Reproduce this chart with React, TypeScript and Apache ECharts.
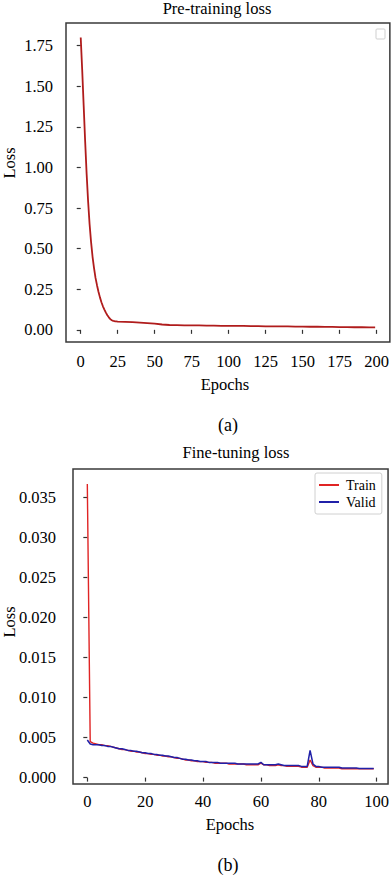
import React, { useEffect, useRef } from "react";
import * as echarts from "echarts";

// ---- Pre-training loss (a) ----
const preEpochs = [
  0, 1, 2, 3, 4, 5, 6, 7, 8, 9, 10, 11, 12, 13, 14, 15, 16, 17, 18, 19, 20, 21, 22, 23, 24, 25,
  30, 35, 40, 45, 50, 55, 60, 65, 70, 75, 80, 85, 90, 95, 100, 105, 110, 115, 120, 125, 130,
  135, 140, 145, 150, 155, 160, 165, 170, 175, 180, 185, 190, 195, 199,
];
const preLoss = [
  1.8, 1.6, 1.38, 1.16, 0.96, 0.79, 0.65, 0.54, 0.45, 0.38, 0.32, 0.275, 0.235, 0.2, 0.17, 0.145,
  0.125, 0.106, 0.09, 0.077, 0.066, 0.059, 0.055, 0.053, 0.052, 0.051,
  0.049, 0.047, 0.045, 0.042, 0.038, 0.033, 0.03, 0.029, 0.028, 0.027, 0.027, 0.026, 0.026, 0.025,
  0.025, 0.024, 0.024, 0.023, 0.023, 0.022, 0.022, 0.021, 0.021, 0.02, 0.02, 0.019, 0.019, 0.018,
  0.018, 0.017, 0.017, 0.016, 0.016, 0.015, 0.015,
];
const preXTicks = [0, 25, 50, 75, 100, 125, 150, 175, 200];
const preYTicks = [0, 0.25, 0.5, 0.75, 1.0, 1.25, 1.5, 1.75];

// ---- Fine-tuning loss (b) ----
const fineTrain = [
  0.0367, 0.0045, 0.0043, 0.0042, 0.0041, 0.0041, 0.004, 0.004, 0.0039, 0.0038,
  0.0037, 0.0036, 0.0035, 0.0035, 0.0034, 0.0033, 0.0033, 0.0032, 0.0032, 0.0031,
  0.003, 0.003, 0.0029, 0.0029, 0.0028, 0.0028, 0.0027, 0.0027, 0.0026, 0.0026,
  0.0025, 0.0024, 0.0024, 0.0023, 0.0022, 0.0022, 0.0021, 0.0021, 0.002, 0.002,
  0.002, 0.0019, 0.0019, 0.0019, 0.0018, 0.0018, 0.0018, 0.0018, 0.0018, 0.0017,
  0.0017, 0.0017, 0.0017, 0.0017, 0.0017, 0.0016, 0.0016, 0.0016, 0.0016, 0.0016,
  0.0018, 0.0016, 0.0016, 0.0015, 0.0015, 0.0015, 0.0016, 0.0015, 0.0015, 0.0014,
  0.0014, 0.0014, 0.0014, 0.0014, 0.0013, 0.0013, 0.0013, 0.0022, 0.0015, 0.0013,
  0.0013, 0.0013, 0.0012, 0.0012, 0.0012, 0.0012, 0.0012, 0.0012, 0.0011, 0.0011,
  0.0011, 0.0011, 0.0011, 0.0011, 0.0011, 0.0011, 0.0011, 0.0011, 0.0011, 0.0011,
];
const fineValid = [
  0.0047, 0.0042, 0.0041, 0.0041, 0.0041, 0.004, 0.004, 0.0039, 0.0039, 0.0038,
  0.0037, 0.0036, 0.0036, 0.0035, 0.0034, 0.0034, 0.0033, 0.0033, 0.0032, 0.0031,
  0.0031, 0.003, 0.003, 0.0029, 0.0029, 0.0028, 0.0028, 0.0027, 0.0027, 0.0026,
  0.0025, 0.0025, 0.0024, 0.0023, 0.0023, 0.0022, 0.0022, 0.0021, 0.0021, 0.002,
  0.002, 0.002, 0.0019, 0.0019, 0.0019, 0.0019, 0.0018, 0.0018, 0.0018, 0.0018,
  0.0018, 0.0018, 0.0017, 0.0017, 0.0017, 0.0017, 0.0017, 0.0017, 0.0017, 0.0017,
  0.0019, 0.0016, 0.0016, 0.0016, 0.0016, 0.0016, 0.0017, 0.0016, 0.0015, 0.0015,
  0.0015, 0.0015, 0.0015, 0.0015, 0.0014, 0.0014, 0.0014, 0.0034, 0.0017, 0.0014,
  0.0014, 0.0013, 0.0013, 0.0013, 0.0013, 0.0013, 0.0013, 0.0013, 0.0012, 0.0012,
  0.0012, 0.0012, 0.0012, 0.0012, 0.00115, 0.00115, 0.00115, 0.00115, 0.00115, 0.00115,
];
const fineXTicks = [0, 20, 40, 60, 80, 100];
const fineYTicks = [0, 0.005, 0.01, 0.015, 0.02, 0.025, 0.03, 0.035];

const FONT = "'Liberation Serif', 'DejaVu Serif', serif";

export default function App() {
  const ref = useRef<HTMLDivElement>(null);
  useEffect(() => {
    if (!ref.current) return;
    const chart = echarts.init(ref.current, undefined, { renderer: "svg" });
    const txt = (text: string, x: number, y: number, size: number, rotation = 0) => ({
      type: "text",
      x,
      y,
      rotation,
      style: {
        text,
        fill: "#000",
        font: `${size}px ${FONT}`,
        textAlign: "center",
        textVerticalAlign: "middle",
      },
    });
    const axisCommon = {
      axisLine: { show: false },
      splitLine: { show: false },
      axisTick: { show: true, inside: false, length: 4, lineStyle: { color: "#333", width: 1.2 } },
    };
    const lbl = { color: "#000", fontFamily: FONT, fontSize: 16.5 };
    const trainPairs = fineTrain.map((v, i) => [i, v]);
    const validPairs = fineValid.map((v, i) => [i, v]);
    chart.setOption({
      animation: false,
      backgroundColor: "#fff",
      grid: [
        { left: 66, top: 23, width: 325, height: 319, show: true, borderColor: "#3a3a3a", borderWidth: 1.5, backgroundColor: "transparent" },
        { left: 73, top: 469, width: 316, height: 315, show: true, borderColor: "#3a3a3a", borderWidth: 1.5, backgroundColor: "transparent" },
      ],
      xAxis: [
        {
          type: "value", gridIndex: 0, min: -9.95, max: 208.95, ...axisCommon,
          axisTick: { ...axisCommon.axisTick, customValues: preXTicks },
          axisLabel: { customValues: preXTicks, margin: 11, ...lbl, formatter: (v: number) => String(v) },
        },
        {
          type: "value", gridIndex: 1, min: -4.95, max: 103.95, ...axisCommon,
          axisTick: { ...axisCommon.axisTick, customValues: fineXTicks },
          axisLabel: { customValues: fineXTicks, margin: 9, ...lbl, formatter: (v: number) => String(v) },
        },
      ],
      yAxis: [
        {
          type: "value", gridIndex: 0, min: -0.0748, max: 1.8893, ...axisCommon,
          axisTick: { ...axisCommon.axisTick, customValues: preYTicks },
          axisLabel: { customValues: preYTicks, margin: 13, ...lbl, formatter: (v: number) => v.toFixed(2) },
        },
        {
          type: "value", gridIndex: 1, min: -0.0008, max: 0.03856, ...axisCommon,
          axisTick: { ...axisCommon.axisTick, customValues: fineYTicks },
          axisLabel: { customValues: fineYTicks, margin: 17, ...lbl, formatter: (v: number) => v.toFixed(3) },
        },
      ],
      legend: {
        data: ["Train", "Valid"],
        orient: "vertical",
        left: 315,
        top: 473,
        padding: [5, 6, 5, 4],
        itemGap: 3,
        itemWidth: 20,
        itemHeight: 2,
        icon: "rect",
        borderColor: "#d0d0d0",
        borderWidth: 1,
        borderRadius: 2,
        backgroundColor: "rgba(255,255,255,0.8)",
        textStyle: { fontFamily: FONT, fontSize: 14, color: "#000", padding: [0, 0, 0, 2] },
      },
      series: [
        {
          type: "line", name: "Pre-training", xAxisIndex: 0, yAxisIndex: 0,
          data: preEpochs.map((e, i) => [e, preLoss[i]]),
          showSymbol: false, lineStyle: { color: "#b01c1c", width: 1.8 }, itemStyle: { color: "#b01c1c" },
        },
        {
          type: "line", name: "Train", xAxisIndex: 1, yAxisIndex: 1, data: trainPairs,
          showSymbol: false, lineStyle: { color: "#e02424", width: 1.4 }, itemStyle: { color: "#e02424" },
        },
        {
          type: "line", name: "Valid", xAxisIndex: 1, yAxisIndex: 1, data: validPairs,
          showSymbol: false, lineStyle: { color: "#2020a8", width: 1.5 }, itemStyle: { color: "#2020a8" },
        },
      ],
      graphic: [
        txt("Pre-training loss", 217, 8, 16.5),
        txt("Loss", 9, 163, 16.5, Math.PI / 2),
        txt("Epochs", 225, 384, 16.5),
        txt("(a)", 228, 425, 18),
        txt("Fine-tuning loss", 236, 452, 16.5),
        txt("Loss", 9, 622, 16.5, Math.PI / 2),
        txt("Epochs", 230, 824, 16.5),
        txt("(b)", 228, 865, 18),
        {
          type: "rect",
          shape: { x: 376, y: 29, width: 9, height: 10, r: 1 },
          style: { fill: "#fff", stroke: "#cfcfcf", lineWidth: 1 },
        },
      ],
    });
    return () => chart.dispose();
  }, []);
  return (
    <div
      ref={ref}
      style={{ position: "fixed", left: 0, top: 0, width: 392, height: 876, background: "#fff" }}
    />
  );
}
